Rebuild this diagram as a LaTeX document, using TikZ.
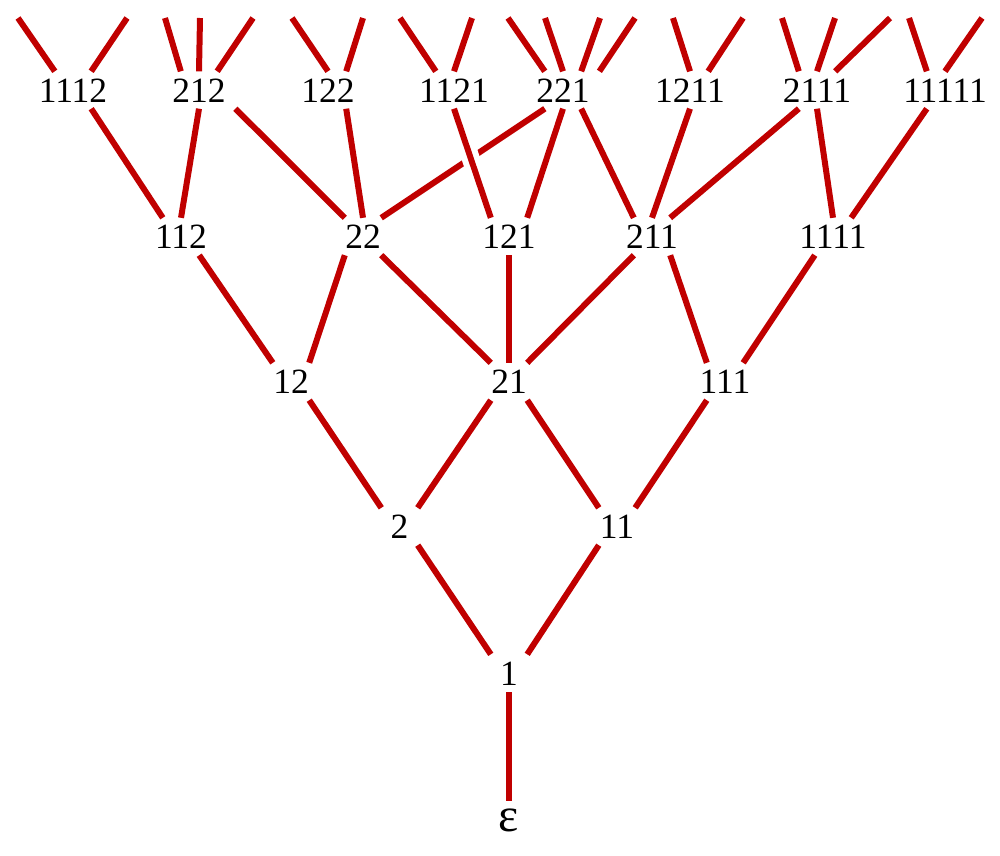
\documentclass[tikz,border=0pt]{standalone}
\usepackage{fontspec}
\setmainfont{Liberation Serif}
\definecolor{edgered}{RGB}{192,0,0}
\begin{document}
\begin{tikzpicture}[x=1pt,y=-1pt,
  lab/.style={shape=rectangle,inner sep=0pt,minimum height=37pt,text height=24pt,text depth=0pt,font=\fontsize{35.5}{40}\selectfont},
  epslab/.style={lab,font=\fontsize{48}{52}\selectfont},
  edge/.style={draw=edgered,line width=6pt},
  over/.style={edge,preaction={draw=white,line width=18pt}}]
\useasboundingbox (0,0) rectangle (1000,855);
% row 1
\node[lab] (n1112) at (73,90) {1112};
\node[lab] (n212) at (199,90) {212};
\node[lab] (n122) at (328,90) {122};
\node[lab] (n1121) at (454,90) {1121};
\node[lab] (n221) at (563,90) {221};
\node[lab] (n1211) at (690,90) {1211};
\node[lab] (n2111) at (817,90) {2111};
\node[lab] (n11111) at (945,90) {11111};
% row 2
\node[lab] (n112) at (181,236.5) {112};
\node[lab] (n22) at (363,236.5) {22};
\node[lab] (n121) at (509,236.5) {121};
\node[lab] (n211) at (652,236.5) {211};
\node[lab] (n1111) at (833,236.5) {1111};
% row 3
\node[lab] (n12) at (291,381.5) {12};
\node[lab] (n21) at (509,381.5) {21};
\node[lab] (n111) at (725,381.5) {111};
% row 4
\node[lab] (n2) at (399.5,526.5) {2};
\node[lab] (n11) at (617,526.5) {11};
% row 5, 6
\node[lab] (n1) at (509,673) {1};
\node[epslab] (ne) at (509,819) {ε};
% free ends at the top
\coordinate (a1) at (18,18);  \coordinate (a2) at (127,18);
\coordinate (b1) at (165,18); \coordinate (b2) at (200,18); \coordinate (b3) at (253,18);
\coordinate (c1) at (292,18); \coordinate (c2) at (363,18);
\coordinate (d1) at (400,18); \coordinate (d2) at (472,18);
\coordinate (e1) at (508,18); \coordinate (e2) at (545,18); \coordinate (e3) at (600,18); \coordinate (e4) at (635,18);
\coordinate (f1) at (673,18); \coordinate (f2) at (743,18);
\coordinate (g1) at (782,18); \coordinate (g2) at (835,18); \coordinate (g3) at (890,18);
\coordinate (h1) at (909,18); \coordinate (h2) at (982,18);
% stubs
\draw[edge] ([xshift=-18.2pt]n1112.north) -- (a1);
\draw[edge] ([xshift=18.2pt]n1112.north) -- (a2);
\draw[edge] ([xshift=-18.2pt]n212.north) -- (b1);
\draw[edge] (n212.north) -- (b2);
\draw[edge] ([xshift=18.2pt]n212.north) -- (b3);
\draw[edge] (n122.north) -- (c1);
\draw[edge] ([xshift=18.2pt]n122.north) -- (c2);
\draw[edge] ([xshift=-18.2pt]n1121.north) -- (d1);
\draw[edge] (n1121.north) -- (d2);
\draw[edge] ([xshift=-18.2pt]n221.north) -- (e1);
\draw[edge] (n221.north) -- (e2);
\draw[edge] ([xshift=18.2pt]n221.north) -- (e3);
\draw[edge] ([xshift=36.4pt]n221.north) -- (e4);
\draw[edge] (n1211.north) -- (f1);
\draw[edge] ([xshift=18.2pt]n1211.north) -- (f2);
\draw[edge] ([xshift=-18.2pt]n2111.north) -- (g1);
\draw[edge] (n2111.north) -- (g2);
\draw[edge] ([xshift=18.2pt]n2111.north) -- (g3);
\draw[edge] ([xshift=-18.2pt]n11111.north) -- (h1);
\draw[edge] (n11111.north) -- (h2);
% row 2 -- row 1
\draw[edge] ([xshift=-18.2pt]n112.north) -- ([xshift=18.2pt]n1112.south);
\draw[edge] (n112.north) -- (n212.south);
\draw[edge] ([xshift=-18.2pt]n22.north) -- ([xshift=36.4pt]n212.south);
\draw[edge] (n22.north) -- ([xshift=18.2pt]n122.south);
\draw[edge] ([xshift=18.2pt]n22.north) -- ([xshift=-18.2pt]n221.south);
\draw[over] ([xshift=-18.2pt]n121.north) -- (n1121.south);
\draw[edge] ([xshift=18.2pt]n121.north) -- (n221.south);
\draw[edge] ([xshift=-18.2pt]n211.north) -- ([xshift=18.2pt]n221.south);
\draw[edge] (n211.north) -- (n1211.south);
\draw[edge] ([xshift=18.2pt]n211.north) -- ([xshift=-18.2pt]n2111.south);
\draw[edge] (n1111.north) -- (n2111.south);
\draw[edge] ([xshift=18.2pt]n1111.north) -- ([xshift=-18.2pt]n11111.south);
% row 3 -- row 2
\draw[edge] ([xshift=-18.2pt]n12.north) -- ([xshift=18.2pt]n112.south);
\draw[edge] ([xshift=18.2pt]n12.north) -- ([xshift=-18.2pt]n22.south);
\draw[edge] ([xshift=-18.2pt]n21.north) -- ([xshift=18.2pt]n22.south);
\draw[edge] (n21.north) -- (n121.south);
\draw[edge] ([xshift=18.2pt]n21.north) -- ([xshift=-18.2pt]n211.south);
\draw[edge] ([xshift=-18.2pt]n111.north) -- ([xshift=18.2pt]n211.south);
\draw[edge] ([xshift=18.2pt]n111.north) -- ([xshift=-18.2pt]n1111.south);
% row 4 -- row 3
\draw[edge] ([xshift=-18.2pt]n2.north) -- ([xshift=18.2pt]n12.south);
\draw[edge] ([xshift=18.2pt]n2.north) -- ([xshift=-18.2pt]n21.south);
\draw[edge] ([xshift=-18.2pt]n11.north) -- ([xshift=18.2pt]n21.south);
\draw[edge] ([xshift=18.2pt]n11.north) -- ([xshift=-18.2pt]n111.south);
% row 5 -- row 4
\draw[edge] ([xshift=-18.2pt]n1.north) -- ([xshift=18.2pt]n2.south);
\draw[edge] ([xshift=18.2pt]n1.north) -- ([xshift=-18.2pt]n11.south);
% row 6 -- row 5
\draw[edge] ([yshift=-0.5pt]ne.north) -- (n1.south);
\end{tikzpicture}
\end{document}
